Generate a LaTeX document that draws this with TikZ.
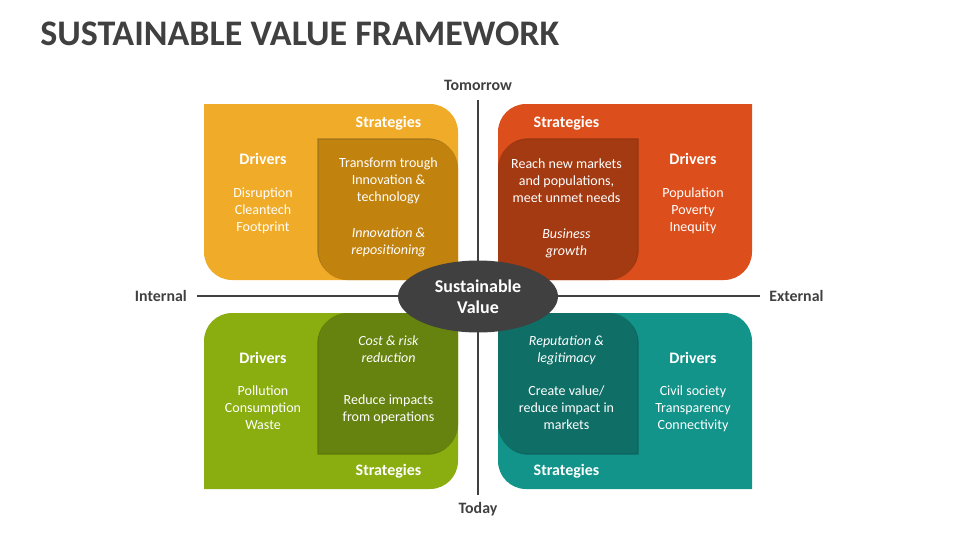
\documentclass[tikz,border=0pt]{standalone}
\usepackage{fontspec}
\setmainfont{Carlito}
\usepackage{tikz}
\usetikzlibrary{positioning,shapes.geometric,shadows}

\definecolor{ink}{HTML}{404040}
\definecolor{amber}{HTML}{F0AB28}
\definecolor{amberdk}{HTML}{C2820E}
\definecolor{rust}{HTML}{DC4E1B}
\definecolor{rustdk}{HTML}{A43A12}
\definecolor{leaf}{HTML}{8AAE10}
\definecolor{leafdk}{HTML}{66820F}
\definecolor{teal}{HTML}{12948A}
\definecolor{tealdk}{HTML}{0F6E66}

\begin{document}
\begin{tikzpicture}[
  x=0.75pt, y=-0.75pt,
  font=\fontsize{10.5}{12.75}\selectfont,
  body/.style={text=white, align=center, inner sep=0pt},
  goal/.style={body, font=\fontsize{10.5}{12.75}\selectfont\itshape},
  head/.style={text=white, align=center, inner sep=0pt, font=\fontsize{12}{14}\selectfont\bfseries},
  axislab/.style={text=ink, inner sep=0pt, font=\fontsize{11.9}{14}\selectfont\bfseries},
  axisline/.style={draw=ink, line width=1.2pt},
  rc/.style={rounded corners=21pt},
  tlshadow/.style={drop shadow={shadow xshift=-1.2pt, shadow yshift=1.2pt, opacity=.3, fill=black}},
  brshadow/.style={drop shadow={shadow xshift=1.2pt, shadow yshift=-1.2pt, opacity=.3, fill=black}},
  trshadow/.style={drop shadow={shadow xshift=1.2pt, shadow yshift=1.2pt, opacity=.3, fill=black}},
  blshadow/.style={drop shadow={shadow xshift=-1.2pt, shadow yshift=-1.2pt, opacity=.3, fill=black}}
]
\useasboundingbox (0,0) rectangle (960,540);

% Title
\node[anchor=west, text=ink, inner sep=0pt, font=\fontsize{27}{32}\selectfont\bfseries] (title) at (40,34) {SUSTAINABLE VALUE FRAMEWORK};

% Axis labels
\node[axislab] (tomorrow) at (478,85) {Tomorrow};
\node[axislab] (today) at (478,509) {Today};
\node[axislab, anchor=east] (internal) at (187,296) {Internal};
\node[axislab, anchor=west] (external) at (769,296) {External};

\draw[axisline, shorten <=7.5pt, shorten >=5pt] (tomorrow) -- (today);
\draw[axisline, shorten <=7.5pt, shorten >=6.75pt] (internal) -- (external);

% Panels
\fill[amber] (204,104) [rc] -- (458,104) [sharp corners] -- (458,280) [rc] -- (204,280) [sharp corners] -- cycle;
\fill[rust] (752,104) [rc] -- (498,104) [sharp corners] -- (498,280) [rc] -- (752,280) [sharp corners] -- cycle;
\fill[leaf] (204,489) [rc] -- (204,313) [sharp corners] -- (458,313) [rc] -- (458,489) [sharp corners] -- cycle;
\fill[teal] (498,313) [rc] -- (752,313) [sharp corners] -- (752,489) [rc] -- (498,489) [sharp corners] -- cycle;

% Inner panels
\fill[amberdk, tlshadow] (319,140) [rc] -- (458,140) [sharp corners] -- (458,280) [rc] -- (319,280) [sharp corners] -- cycle;
\fill[rustdk, trshadow] (637,140) [rc] -- (498,140) [sharp corners] -- (498,280) [rc] -- (637,280) [sharp corners] -- cycle;
\fill[leafdk, blshadow] (319,453) [rc] -- (319,313) [sharp corners] -- (458,313) [rc] -- (458,453) [sharp corners] -- cycle;
\fill[tealdk, brshadow] (498,313) [rc] -- (637,313) [sharp corners] -- (637,453) [rc] -- (498,453) [sharp corners] -- cycle;

% Top left
\node[head] (stratA) at (388.5,123.5) {Strategies};
\node[head] (drvA) at (263,159) {Drivers};
\node[body, below=17pt of drvA] (lstA) {Disruption\\Cleantech\\Footprint};
\node[body] (planA) at (388.5,181) {Transform trough\\Innovation \&\\technology};
\node[goal] (goalA) at (388.5,242) {Innovation \&\\repositioning};

% Top right
\node[head] (stratB) at (566.5,123.5) {Strategies};
\node[head] (drvB) at (693,159) {Drivers};
\node[body, below=17pt of drvB] (lstB) {Population\\Poverty\\Inequity};
\node[body] (planB) at (566.5,181) {Reach new markets\\and populations,\\meet unmet needs};
\node[goal] (goalB) at (566.5,243) {Business\\growth};

% Bottom left
\node[head] (stratC) at (388.5,471.5) {Strategies};
\node[head] (drvC) at (263,358) {Drivers};
\node[body, below=16pt of drvC] (lstC) {Pollution\\Consumption\\Waste};
\node[goal] (goalC) at (388.5,349) {Cost \& risk\\reduction};
\node[body] (planC) at (388.5,409) {Reduce impacts\\from operations};

% Bottom right
\node[head] (stratD) at (566.5,471.5) {Strategies};
\node[head] (drvD) at (693,358) {Drivers};
\node[body, below=16pt of drvD] (lstD) {Civil society\\Transparency\\Connectivity};
\node[goal] (goalD) at (566.5,350) {Reputation \&\\legitimacy};
\node[body] (planD) at (566.5,408) {Create value/\\reduce impact in\\markets};

% Centre
\node[ellipse, fill=ink, text=white, align=center, minimum width=120pt, minimum height=54pt, inner sep=0pt, font=\fontsize{13.5}{15.5}\selectfont\bfseries] (core) at (478,296.5) {Sustainable\\Value};

\end{tikzpicture}
\end{document}
